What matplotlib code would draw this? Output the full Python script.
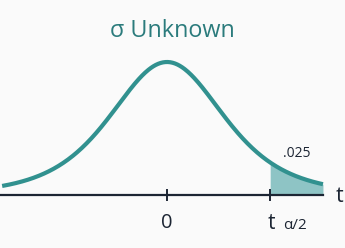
import numpy as np
import matplotlib
matplotlib.use("Agg")
import matplotlib.pyplot as plt
from math import gamma, sqrt, pi

# data
df = 4
curve_left, curve_right = -2.78, 2.63
t_crit = 1.74
tick_positions = [0.0, t_crit]
tick_labels = ["0", "t"]
tail_label = ".025"
title = "σ Unknown"

def t_pdf(x, v):
    c = gamma((v + 1) / 2) / (sqrt(v * pi) * gamma(v / 2))
    return c * (1 + x**2 / v) ** (-(v + 1) / 2)

W, H = 345, 248
fig = plt.figure(figsize=(W / 100, H / 100), dpi=100)
bg = "#fafafa"
fig.patch.set_facecolor(bg)
ax = fig.add_axes([0, 0, 1, 1])
ax.set_facecolor(bg)
ax.axis("off")

pxu = 59.3
pyu = 133 / t_pdf(0, df)
ax.set_xlim(-167 / pxu, (W - 167) / pxu)
ax.set_ylim(-(H - 195) / pyu, 195 / pyu)

teal = "#31918f"
navy = "#1c2533"
xs = np.linspace(curve_left, curve_right, 400)
ys = t_pdf(xs, df)
xf = np.linspace(t_crit, curve_right, 100)
ax.fill_between(xf, 0, t_pdf(xf, df), color="#8ec4c5", lw=0, zorder=1)
ax.plot(xs, ys, color=teal, lw=3.0, solid_capstyle="butt", zorder=3)
ax.plot([-167 / pxu, curve_right], [0, 0], color=navy, lw=1.6, zorder=2)
th = 5 / pyu
for tp in tick_positions:
    ax.plot([tp, tp], [-th, th], color=navy, lw=1.4, zorder=2)

def P(x, y):
    return x / W, 1 - y / H

fam = ["Open Sans", "DejaVu Sans"]
fig.text(*P(172, 37), title, ha="center", va="baseline", fontsize=16.8, color="#2b7b7c", family=fam)
fig.text(*P(167, 227.5), tick_labels[0], ha="center", va="baseline", fontsize=14.5, color=navy, family=fam)
fig.text(*P(271, 229), tick_labels[1], ha="center", va="baseline", fontsize=15, color=navy, family=fam)
fig.text(*P(295, 229), "α/2", ha="center", va="baseline", fontsize=11, color=navy, family=fam)
fig.text(*P(296.5, 157), tail_label, ha="center", va="baseline", fontsize=10, color=navy, family=fam)
fig.text(*P(339, 202), "t", ha="center", va="baseline", fontsize=15.5, color=navy, family=fam)

fig.savefig("out.png", dpi=100, facecolor=bg)
